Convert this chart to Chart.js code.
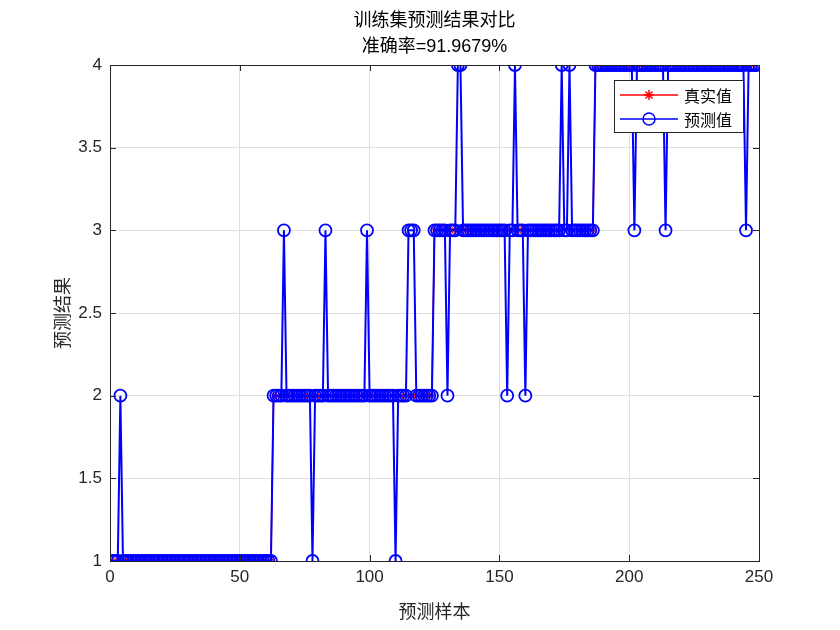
<!DOCTYPE html>
<html><head><meta charset="utf-8">
<script src="https://cdn.jsdelivr.net/npm/chart.js@4"></script>
<style>html,body{margin:0;padding:0;background:#fff}#w{width:840px;height:630px}</style>
</head><body><div id="w"><canvas id="c"></canvas></div>
<script>
// true class runs: [class, count]
const trueRuns = [[1,62],[2,62],[3,62],[4,63]];
// misclassified samples: sample index -> predicted class
const errIdx = [4, 67, 78, 83, 99, 110, 115, 116, 117, 130, 134, 135, 153, 156, 160, 174, 177, 202, 214, 245];
const errVal = [2, 3, 1, 3, 3, 1, 3, 3, 3, 2, 4, 4, 2, 4, 2, 4, 4, 3, 3, 3];
const xTicks = [0, 50, 100, 150, 200, 250];
const yTicks = [1, 1.5, 2, 2.5, 3, 3.5, 4];

const trueVals = [];
trueRuns.forEach(([c, n]) => { for (let i = 0; i < n; i++) trueVals.push(c); });
const predVals = trueVals.slice();
errIdx.forEach((s, k) => { predVals[s - 1] = errVal[k]; });
const trueData = trueVals.map((v, i) => ({x: i + 1, y: v}));
const predData = predVals.map((v, i) => ({x: i + 1, y: v}));

const serif = '"Noto Sans CJK SC", sans-serif';
const deco = {
  id: 'deco',
  afterDraw(ch) {
    const {ctx, chartArea: a} = ch;
    ctx.save();
    ctx.strokeStyle = '#262626'; ctx.lineWidth = 1;
    ctx.strokeRect(a.left + 0.5, a.top + 0.5, a.right - a.left, a.bottom - a.top);
    const xs = ch.scales.x, ys = ch.scales.y;
    ctx.beginPath();
    xTicks.forEach(t => { const p = Math.round(xs.getPixelForValue(t)) + 0.5;
      ctx.moveTo(p, a.bottom); ctx.lineTo(p, a.bottom - 6); ctx.moveTo(p, a.top); ctx.lineTo(p, a.top + 6); });
    yTicks.forEach(t => { const p = Math.round(ys.getPixelForValue(t)) + 0.5;
      ctx.moveTo(a.left, p); ctx.lineTo(a.left + 6, p); ctx.moveTo(a.right, p); ctx.lineTo(a.right - 6, p); });
    ctx.stroke();
    ctx.fillStyle = '#000'; ctx.textAlign = 'center'; ctx.textBaseline = 'middle';
    ctx.font = '18px ' + serif; ctx.fillText('训练集预测结果对比', (a.left + a.right) / 2, 19);
    ctx.font = '18px "Liberation Sans", "Noto Sans CJK SC"'; ctx.fillText('准确率=91.9679%', (a.left + a.right) / 2, 47);
    ctx.fillStyle = '#262626';
    ctx.font = '18px ' + serif; ctx.fillText('预测样本', (a.left + a.right) / 2, 611);
    ctx.save(); ctx.translate(62, (a.top + a.bottom) / 2); ctx.rotate(-Math.PI / 2);
    ctx.fillText('预测结果', 0, 0); ctx.restore();
    const lx = 614, ly = 80, lw = 129, lh = 52;
    ctx.fillStyle = '#fff'; ctx.fillRect(lx, ly, lw, lh);
    ctx.strokeStyle = '#262626'; ctx.lineWidth = 1; ctx.strokeRect(lx + 0.5, ly + 0.5, lw, lh);
    ctx.lineWidth = 1.5;
    ctx.strokeStyle = 'red'; ctx.beginPath(); ctx.moveTo(620, 95); ctx.lineTo(678, 95); ctx.stroke();
    ctx.beginPath();
    for (let k = 0; k < 4; k++) { const ang = k * Math.PI / 4; ctx.moveTo(649 - 5 * Math.cos(ang), 95 - 5 * Math.sin(ang)); ctx.lineTo(649 + 5 * Math.cos(ang), 95 + 5 * Math.sin(ang)); }
    ctx.stroke();
    ctx.strokeStyle = 'blue'; ctx.beginPath(); ctx.moveTo(620, 119); ctx.lineTo(678, 119); ctx.stroke();
    ctx.beginPath(); ctx.arc(649, 119, 6, 0, Math.PI * 2); ctx.stroke();
    ctx.fillStyle = '#000'; ctx.textAlign = 'left'; ctx.font = '16px ' + serif;
    ctx.fillText('真实值', 684, 96); ctx.fillText('预测值', 684, 120);
    ctx.restore();
  }
};

new Chart(document.getElementById('c'), {
  type: 'line',
  data: { datasets: [
    { label: '真实值', order: 1, data: trueData, borderColor: 'red', borderWidth: 1.5, pointStyle: 'star', pointRadius: 3.5, pointBorderColor: 'red', pointBorderWidth: 1, fill: false },
    { label: '预测值', order: 0, data: predData, borderColor: 'blue', borderWidth: 2, pointStyle: 'circle', pointRadius: 6, pointBorderColor: 'blue', pointBackgroundColor: 'rgba(0,0,0,0)', pointBorderWidth: 1.8, fill: false }
  ]},
  options: {
    responsive: true, maintainAspectRatio: false, animation: false,
    layout: { padding: { left: 0, right: 81, top: 65, bottom: 0 } },
    plugins: { legend: { display: false }, tooltip: { enabled: false } },
    scales: {
      x: { type: 'linear', min: 0, max: 250, afterFit: s => { s.height = 69; },
        afterBuildTicks: s => { s.ticks = xTicks.map(v => ({value: v})); },
        grid: { color: '#dfdfdf', drawTicks: false }, border: { display: false },
        ticks: { color: '#262626', font: { family: 'Liberation Sans', size: 17 }, padding: 6, maxRotation: 0, callback: v => String(v) } },
      y: { min: 1, max: 4, afterFit: s => { s.width = 110; },
        afterBuildTicks: s => { s.ticks = yTicks.map(v => ({value: v})); },
        grid: { color: '#dfdfdf', drawTicks: false }, border: { display: false },
        ticks: { color: '#262626', font: { family: 'Liberation Sans', size: 17 }, padding: 8, callback: v => String(v) } }
    }
  },
  plugins: [deco]
});
</script></body></html>
